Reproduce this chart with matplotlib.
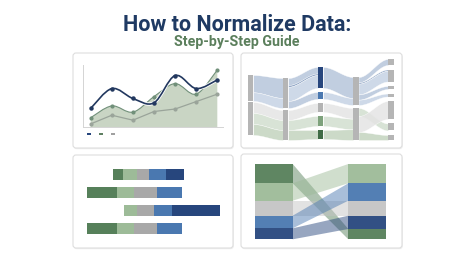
import numpy as np
import matplotlib
matplotlib.use('Agg')
from matplotlib import pyplot as plt
from matplotlib.patches import FancyBboxPatch, Rectangle, PathPatch
from matplotlib.path import Path
import matplotlib.patheffects as pe

# ---- data ----
# line chart (top left)
line_x = [0, 1, 2, 3, 4, 5, 6]
navy_line = [30, 62, 46, 39, 83, 62, 76]
green_area = [15, 34, 24, 49, 70, 53, 92]
gray_line = [5, 19, 11, 25, 29, 41, 53]

# stacked bars (bottom left)
bar_rows = [0, 1, 2, 3]
bar_offset = [26.6, 0, 37.3, 0]
bar_dkgreen = [9.4, 30, 0, 30]
bar_ltgreen = [14, 17.3, 12.7, 17.3]
bar_gray = [12.3, 22.7, 17.6, 22.7]
bar_blue = [16.7, 25.6, 18, 25.6]
bar_navy = [18.3, 0, 47.7, 0]

# sankey (top right): node sizes per column
sk_nodes = [
    [26, 33],
    [30, 30],
    [21, 7, 9, 10, 9],
    [28, 32],
    [6, 12, 3, 3, 18, 7, 5],
]
# flows between adjacent columns: (src, dst, value, kind)
sk_flows = [
    [(0, 0, 2, 'b'), (0, 0, 1, 'b2'), (1, 1, 1, 'g'), (1, 1, 1, 'gr'), (1, 1, 1, 'gr2')],
    [(0, 0, 1, 'b'), (0, 0, 0.25, 'bd'), (0, 0, 2, 'b2'), (0, 1, 1, 'b'), (1, 2, 1, 'g'), (1, 3, 1, 'gr'), (1, 4, 1, 'gr2')],
    [(0, 0, 3, 'b'), (1, 0, 1, 'b2'), (2, 1, 1, 'g'), (3, 1, 1, 'gr'), (4, 1, 1, 'gr2')],
    [(0, 0, 1, 'b'), (0, 1, 0.25, 'bd'), (0, 1, 2, 'b2'), (0, 2, 1, 'b'), (0, 3, 1, 'b2'),
     (1, 5, 1, 'gr'), (1, 4, 2, 'g'), (1, 6, 1, 'gr2')],
]

# alluvial (bottom right)
cats = ['dkgreen', 'ltgreen', 'gray', 'blue', 'navy']
left_vals = [19.3, 17.4, 15, 12.6, 11]
right_order = ['ltgreen', 'blue', 'gray', 'navy', 'dkgreen']
right_vals = [19.3, 17.4, 15, 13.3, 10.3]

# ---- styles ----
NAVY = '#27467d'
BLUE = '#4a78b0'
DKGREEN = '#56805a'
LTGREEN = '#9dbb98'
GRAY = '#a8a8a8'
cat_col = {'dkgreen': DKGREEN, 'ltgreen': LTGREEN, 'gray': '#c4c4c4', 'blue': BLUE, 'navy': NAVY}
flow_col = {'b': '#b7c6db', 'b2': '#c6d3e4', 'bd': '#7f98bd', 'g': '#e4e4e4',
            'gr': '#d2dfcf', 'gr2': '#c3d4bf'}

W, H = 474, 266
fig = plt.figure(figsize=(W / 100, H / 100), dpi=100)
fig.patch.set_facecolor('white')


def px_axes(x0, y0, x1, y1, z=2):
    ax = fig.add_axes([x0 / W, 1 - y1 / H, (x1 - x0) / W, (y1 - y0) / H], zorder=z)
    ax.patch.set_alpha(0)
    return ax


def smooth_verts(xs, ys):
    # catmull-rom through the points, as cubic bezier segments
    p = np.column_stack([xs, ys]).astype(float)
    ext = np.vstack([p[0], p, p[-1]])
    verts = [p[0]]
    codes = [Path.MOVETO]
    for i in range(len(p) - 1):
        p0, p1, p2, p3 = ext[i], ext[i + 1], ext[i + 2], ext[i + 3]
        verts += [p1 + (p2 - p0) / 6, p2 - (p3 - p1) / 6, p2]
        codes += [Path.CURVE4] * 3
    return verts, codes


# background axes for panels and titles
bg = fig.add_axes([0, 0, 1, 1], zorder=0)
bg.set_xlim(0, W)
bg.set_ylim(H, 0)
bg.axis('off')

for (x0, y0, x1, y1) in [(73, 53, 233, 148), (241, 53, 402, 148),
                         (73, 155, 233, 248), (241, 154, 402, 248)]:
    bg.add_patch(FancyBboxPatch((x0 + 0.8, y0 + 1.2), x1 - x0, y1 - y0,
                                boxstyle='round,pad=0,rounding_size=3',
                                fc='#eeeeee', ec='none'))
    bg.add_patch(FancyBboxPatch((x0, y0), x1 - x0, y1 - y0,
                                boxstyle='round,pad=0,rounding_size=3',
                                fc='white', ec='#dedede', lw=0.8))

bg.text(237, 25, 'How to Normalize Data:', ha='center', va='center',
        fontsize=15.5, fontweight='bold', family='Roboto', color='#1f3a63')
bg.text(237, 42, 'Step-by-Step Guide', ha='center', va='center',
        fontsize=10.2, fontweight='bold', family='Roboto', color='#5b7f5c')

# ---- line chart ----
ax1 = px_axes(83, 65, 223, 127)
gv, gc = smooth_verts(line_x, green_area)
area_v = gv + [(line_x[-1], 0), (line_x[0], 0), gv[0]]
area_c = gc + [Path.LINETO, Path.LINETO, Path.CLOSEPOLY]
ax1.add_patch(PathPatch(Path(area_v, area_c), fc='#c9d5c4', ec='none', zorder=1))
ax1.add_patch(PathPatch(Path(gv, gc), fc='none', ec='#71907a', lw=0.8, zorder=2))
ax1.plot(line_x, green_area, ls='none', color='#71907a', marker='o', ms=2, zorder=2)
ax1.plot(line_x, gray_line, color='#9aa49a', lw=0.9, marker='o', ms=2, zorder=2)
nv, nc = smooth_verts(line_x, navy_line)
ax1.add_patch(PathPatch(Path(nv, nc), fc='none', ec='#22385f', lw=1.2, zorder=3,
                        path_effects=[pe.Stroke(linewidth=2.4, foreground='white'), pe.Normal()]))
ax1.plot(line_x, navy_line, ls='none', color='#22385f', marker='o', ms=2.2, zorder=3)
ax1.set_xlim(-0.365, 6.27)
ax1.set_ylim(0, 100)
for s in ['top', 'right']:
    ax1.spines[s].set_visible(False)
for s in ['left', 'bottom']:
    ax1.spines[s].set_color('#d4d4d4')
    ax1.spines[s].set_linewidth(0.7)
ax1.set_xticks([])
ax1.set_yticks([])
for lx, c in [(86.7, '#27467d'), (99.3, '#5e7f62'), (110.7, '#a0a0a0')]:
    bg.add_patch(Rectangle((lx, 133), 4, 2.2, fc=c, ec='none'))

# ---- stacked bars ----
ax3 = px_axes(80, 160, 228, 244)
left = np.array(bar_offset, dtype=float)
for vals, c in [(bar_dkgreen, DKGREEN), (bar_ltgreen, LTGREEN), (bar_gray, GRAY),
                (bar_blue, BLUE), (bar_navy, NAVY)]:
    ax3.barh(bar_rows, vals, left=left, height=0.61, color=c, lw=0)
    left += np.array(vals)
ax3.set_xlim(-6.7, 141.3)
ax3.set_ylim(3.85, -0.817)
ax3.axis('off')

# ---- sankey ----
ax2 = px_axes(241, 53, 402, 148)
ax2.set_xlim(241, 402)
ax2.set_ylim(148, 53)
ax2.axis('off')
col_x = [250.5, 285.5, 320.5, 355.8, 390.8]
col_top = [75, 78, 67, 77, 59]
col_gap = [1, 2, 4, 3, 4.5]
bw = 5.5
col3_colors = [NAVY, BLUE, '#b3b3b3', '#7ea27c', '#3f6b45']


def stack(top, sizes, gap):
    out = []
    y = top
    for s in sizes:
        out.append([y, y + s])
        y += s + gap
    return out


pos = [stack(t, n, g) for t, n, g in zip(col_top, sk_nodes, col_gap)]
for ci, nodes in enumerate(pos):
    for ni, (y0, y1) in enumerate(nodes):
        c = col3_colors[ni] if ci == 2 else '#b5b5b5'
        ax2.bar(col_x[ci], y1 - y0, bottom=y0, width=bw, color=c, lw=0, zorder=3)

t = np.linspace(0, 1, 60)
sm = 3 * t ** 2 - 2 * t ** 3
for ci, flows in enumerate(sk_flows):
    src, dst = pos[ci], pos[ci + 1]
    out_tot = {}
    in_tot = {}
    for s, d, v, k in flows:
        out_tot[s] = out_tot.get(s, 0) + v
        in_tot[d] = in_tot.get(d, 0) + v
    out_cur = {s: src[s][0] for s in out_tot}
    in_cur = {d: dst[d][0] for d in in_tot}
    xa = col_x[ci] + bw / 2
    xb = col_x[ci + 1] - bw / 2
    xs = xa + (xb - xa) * t
    for s, d, v, k in flows:
        hs = (src[s][1] - src[s][0]) * v / out_tot[s]
        hd = (dst[d][1] - dst[d][0]) * v / in_tot[d]
        a0, a1 = out_cur[s], out_cur[s] + hs
        b0, b1 = in_cur[d], in_cur[d] + hd
        out_cur[s] = a1
        in_cur[d] = b1
        top = a0 + (b0 - a0) * sm
        bot = a1 + (b1 - a1) * sm
        ax2.fill_between(xs, top, bot, color=flow_col[k], alpha=0.85,
                         lw=0.3, edgecolor='white', zorder=2)

# ---- alluvial ----
ax4 = px_axes(241, 154, 402, 248)
ax4.set_xlim(241, 402)
ax4.set_ylim(248, 154)
ax4.axis('off')
lx0, lx1 = 255, 292.7
rx0, rx1 = 348.3, 386
top4 = 164
lpos = {}
y = top4
for c, v in zip(cats, left_vals):
    lpos[c] = (y, y + v)
    y += v
rpos = {}
y = top4
for c, v in zip(right_order, right_vals):
    rpos[c] = (y, y + v)
    y += v
for c in cats:
    (a0, a1), (b0, b1) = lpos[c], rpos[c]
    ax4.fill([lx1, rx0, rx0, lx1], [a0, b0, b1, a1], color=cat_col[c], alpha=0.48,
             lw=0, zorder=1)
for c in cats:
    y0, y1 = lpos[c]
    ax4.bar((lx0 + lx1) / 2, y1 - y0, bottom=y0, width=lx1 - lx0, color=cat_col[c],
            lw=0, alpha=0.95, zorder=2)
    y0, y1 = rpos[c]
    ax4.bar((rx0 + rx1) / 2, y1 - y0, bottom=y0, width=rx1 - rx0, color=cat_col[c],
            lw=0, alpha=0.95, zorder=2)

fig.savefig('out.png', dpi=100, facecolor='white')
